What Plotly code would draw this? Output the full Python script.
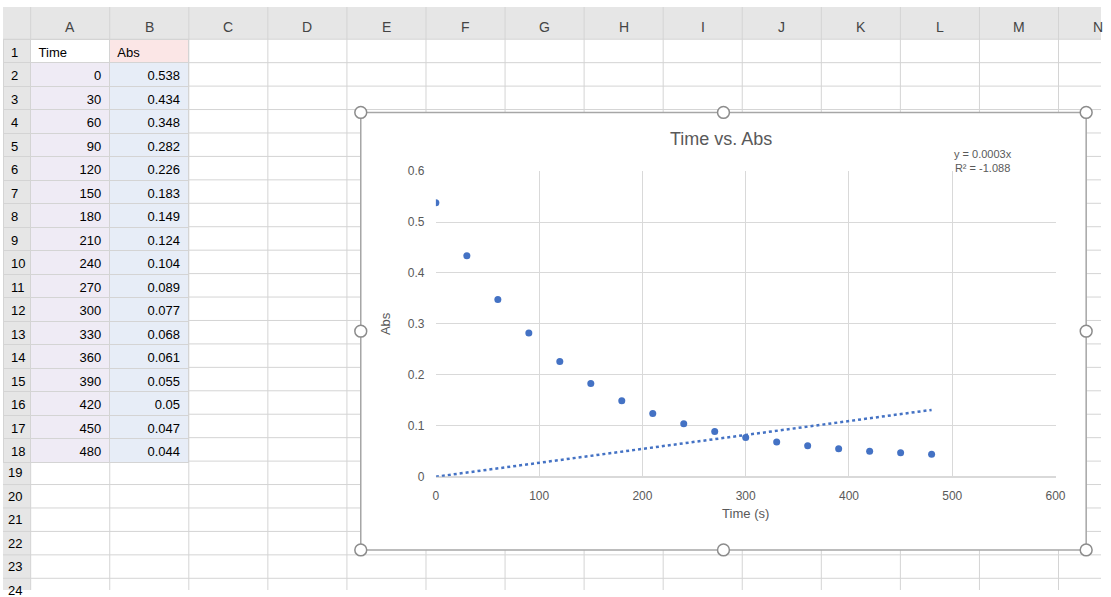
import plotly.graph_objects as go

W, H = 1111, 597

time_s = [0, 30, 60, 90, 120, 150, 180, 210, 240, 270, 300, 330, 360, 390, 420, 450, 480]
absorb = [0.538, 0.434, 0.348, 0.282, 0.226, 0.183, 0.149, 0.124, 0.104, 0.089,
          0.077, 0.068, 0.061, 0.055, 0.05, 0.047, 0.044]
col_letters = ["A", "B", "C", "D", "E", "F", "G", "H", "I", "J", "K", "L", "M", "N"]
row_numbers = list(range(1, 25))


def px(x):
    return x / W


def py(y):
    return 1 - y / H


# linear fit through origin (Excel trendline with intercept 0)
slope = sum(t * a for t, a in zip(time_s, absorb)) / sum(t * t for t in time_s)
trend_x = [time_s[0], time_s[-1]]
trend_y = [slope * t for t in trend_x]

fig = go.Figure()

# spreadsheet data block
cell_font = dict(family="Liberation Sans", size=13, color="#000000")
fig.add_trace(go.Table(
    domain=dict(x=[0, px(188)], y=[py(478), py(33)]),
    columnwidth=[28, 80, 80],
    header=dict(values=["1", "Time", "Abs"], height=23.5,
                align=["left", "left", "left"],
                fill_color=["#e6e6e6", "#ffffff", "#fbe6e6"],
                line_color="#d4d4d4", font=cell_font),
    cells=dict(values=[row_numbers[1:18], time_s, absorb], height=23.5,
               align=["left", "right", "right"],
               fill_color=["#e6e6e6", "#efebf5", "#e7edf7"],
               line_color="#d4d4d4", font=cell_font),
))

fig.add_trace(go.Scatter(x=time_s, y=absorb, mode="markers",
                         marker=dict(color="#4472c4", size=7)))
fig.add_trace(go.Scatter(x=trend_x, y=trend_y, mode="lines",
                         line=dict(color="#4472c4", width=2.5, dash="dot")))

shapes = []
# sheet grid
shapes.append(dict(type="rect", xref="paper", yref="paper", x0=0, x1=1, y0=py(33), y1=1,
                   fillcolor="#e6e6e6", line=dict(width=0), layer="below"))
shapes.append(dict(type="rect", xref="paper", yref="paper", x0=0, x1=px(28), y0=0, y1=1,
                   fillcolor="#e6e6e6", line=dict(width=0), layer="below"))
for i in range(15):
    x = 28 + 80 * i
    shapes.append(dict(type="line", xref="paper", yref="paper", x0=px(x), x1=px(x), y0=0, y1=1,
                       line=dict(color="#d4d4d4", width=1), layer="below"))
for j in range(26):
    y = 33 + 24 * j
    shapes.append(dict(type="line", xref="paper", yref="paper", x0=0, x1=1, y0=py(y), y1=py(y),
                       line=dict(color="#d4d4d4", width=1), layer="below"))
# chart box
shapes.append(dict(type="rect", xref="paper", yref="paper", x0=px(362), x1=px(1096),
                   y0=py(556), y1=py(108), fillcolor="#ffffff",
                   line=dict(color="#a6a6a6", width=1.5), layer="below"))
for hx in (362, 729, 1096):
    for hy in (108, 332, 556):
        if hx == 729 and hy == 332:
            continue
        shapes.append(dict(type="circle", xref="paper", yref="paper",
                           x0=px(hx - 6), x1=px(hx + 6), y0=py(hy + 6), y1=py(hy - 6),
                           fillcolor="#ffffff", line=dict(color="#8c8c8c", width=1.5)))

annotations = []
for i, c in enumerate(col_letters):
    annotations.append(dict(x=px(68 + 80 * i), y=py(20), xref="paper", yref="paper",
                            text=c, showarrow=False, xanchor="center", yanchor="middle",
                            font=dict(family="Liberation Sans", size=14, color="#444444")))
for r in row_numbers[18:]:
    annotations.append(dict(x=px(3), y=py(33 + 24 * (r - 1) + 12), xref="paper", yref="paper",
                            text=str(r), showarrow=False, xanchor="left", yanchor="middle",
                            font=cell_font))
annotations.append(dict(x=px(727), y=py(135), xref="paper", yref="paper", text="Time vs. Abs",
                        showarrow=False, xanchor="center", yanchor="middle",
                        font=dict(family="Liberation Sans", size=18, color="#595959")))
annotations.append(dict(x=px(992), y=py(158), xref="paper", yref="paper",
                        text="y = 0.0003x<br>R² = -1.088", showarrow=False,
                        xanchor="center", yanchor="middle",
                        font=dict(family="Liberation Sans", size=11, color="#595959")))

axis_font = dict(family="Liberation Sans", size=12, color="#595959")
fig.update_layout(
    autosize=True, margin=dict(l=0, r=0, t=0, b=0),
    paper_bgcolor="#ffffff", plot_bgcolor="rgba(0,0,0,0)", showlegend=False,
    shapes=shapes, annotations=annotations,
    xaxis=dict(domain=[px(438), px(1065)], range=[0, 600], dtick=100, showgrid=True,
               gridcolor="#d9d9d9", zeroline=False, showline=False, tickfont=axis_font,
               ticks="outside", ticklen=8, tickcolor="rgba(0,0,0,0)",
               title=dict(text="Time (s)", font=dict(family="Liberation Sans", size=13, color="#595959"),
                          standoff=6)),
    yaxis=dict(domain=[py(481), py(168)], range=[0, 0.6], dtick=0.1, showgrid=True,
               gridcolor="#d9d9d9", zeroline=True, zerolinecolor="#d9d9d9", tickfont=axis_font,
               tickformat="~g", ticks="outside", ticklen=8, tickcolor="rgba(0,0,0,0)",
               title=dict(text="Abs", font=dict(family="Liberation Sans", size=13, color="#595959"),
                          standoff=14)),
)

fig.write_html("out.html", default_width="100vw", default_height="100vh",
               config={"displayModeBar": False},
               post_script="document.body.style.margin='0';document.body.style.overflow='hidden';")
